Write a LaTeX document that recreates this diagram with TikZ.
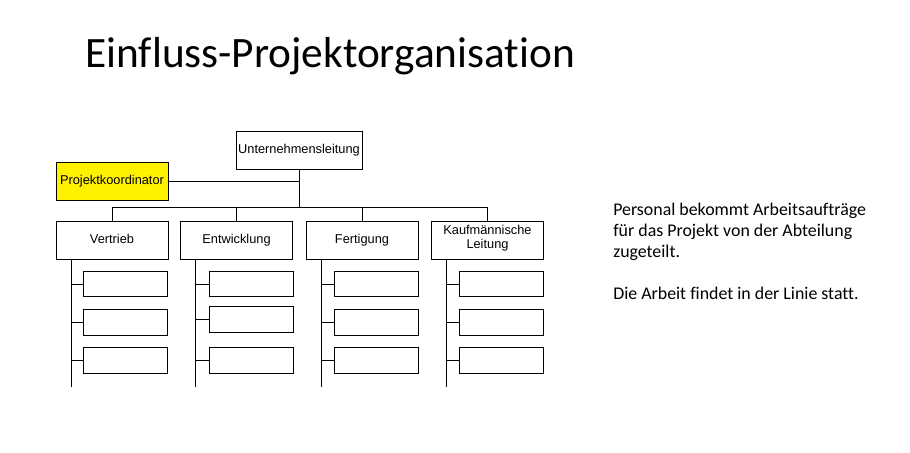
\documentclass[tikz,border=0pt]{standalone}
\usepackage{fontspec}
\setmainfont[Ligatures=NoCommon]{Carlito}
\newfontfamily\orgfont{Liberation Sans}
\usetikzlibrary{positioning}

\tikzset{
  unit/.style={draw, line width=0.6pt, minimum width=84pt, minimum height=28.5pt, font=\orgfont\fontsize{9.6}{10}\selectfont, align=center, inner sep=1pt, text height=7pt, text depth=2pt},
  subunit/.style={draw, line width=0.6pt, minimum width=63pt, minimum height=19pt},
  link/.style={line width=0.6pt}
}

\begin{document}
\begin{tikzpicture}[x=0.75pt,y=-0.75pt]
\useasboundingbox (0,0) rectangle (910,453);
\node[anchor=base west, font=\fontsize{32.5}{38}\selectfont, inner sep=0] (title) at (85,68) {Einfluss-Projektorganisation};
\node[unit, minimum width=94.5pt] (ul) at (299,150) {Unternehmensleitung};
\node[unit, fill=yellow] (pk) at (112,181.5) {Projektkoordinator};
\node[unit] (vt) at (112,240) {Vertrieb};
\node[unit] (ew) at (236.5,240) {Entwicklung};
\node[unit] (fg) at (362,240) {Fertigung};
\node[unit, text height=14pt] (kl) at (487.5,240) {Kaufmännische\\Leitung};
\coordinate (bus) at (299,207);
\draw[link] (ul.south) -- (bus);
\draw[link] (pk.east) -- (pk.east -| ul.south);
\foreach \d in {vt,ew,fg,kl}
  \draw[link] (\d.north) -- (\d.north |- bus) -- (bus);
% sub units
\foreach \d/\sx/\bx/\ym in {vt/71/125.5/322.5,ew/195/251/319.5,fg/321/376/322.5,kl/446/501/322.5}{
  \coordinate (\d-top) at (\sx,259);
  \coordinate (\d-end) at (\sx,387);
  \draw[link] (\d-top) -- (\d-end);
  \foreach \i/\y in {1/284,2/\ym,3/360.5}{
    \node[subunit] (\d-\i) at (\bx,\y) {};
    \draw[link] (\d-\i.west) -- (\d-\i.west -| \d-top);
  }
}
\node[anchor=north west, align=left, font=\fontsize{13.4}{15.75}\selectfont, inner sep=0] (note) at (613,203)
  {Personal bekommt Arbeitsaufträge\\für das Projekt von der Abteilung\\zugeteilt.\\[15.75pt]Die Arbeit findet in der Linie statt.};
\end{tikzpicture}
\end{document}
